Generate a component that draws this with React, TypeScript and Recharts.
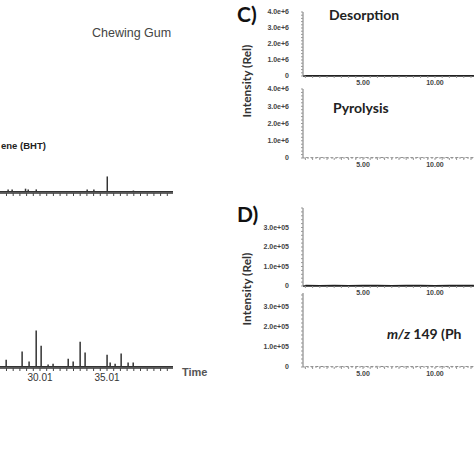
import React from "react";
import { ComposedChart, LineChart, Bar, Line, XAxis, YAxis, ReferenceLine } from "recharts";

// chewing gum chromatograms: retention time (min) and relative abundance (%)
const bhtTimes = [27.6, 27.9, 28.9, 29.1, 29.7, 33.5, 34.0, 35.0, 36.95];
const bhtHeights = [6, 6, 8, 6, 6, 6, 6, 42, 3];

const gumTimes = [27.47, 28.66, 29.18, 29.71, 30.08, 30.6, 30.97, 32.1, 32.47, 32.99, 33.36, 35.0, 35.23, 35.6, 36.05, 36.57, 36.95];
const gumHeights = [19, 42, 14, 100, 58, 6, 8, 22, 14, 69, 39, 33, 11, 8, 36, 11, 11];

const timeLabelValues = [30.01, 35.01];
const timeLabels = ["30.01", "35.01"];

// desorption / pyrolysis runs: scan time (min) and intensity
const scanTimes = [1, 2, 3, 4, 5, 6, 7, 8, 9, 10, 11, 12, 12.7];
const ticDesorption = [20000, 18000, 22000, 19000, 21000, 20000, 18000, 23000, 20000, 19000, 21000, 20000, 22000];
const ticPyrolysis = [15000, 22000, 12000, 25000, 18000, 30000, 14000, 26000, 20000, 16000, 28000, 19000, 24000];
const ion149Desorption = [2000, 1800, 2200, 1900, 2100, 2000, 1800, 2300, 2000, 1900, 2100, 2000, 2200];
const ion149Pyrolysis = [1500, 2600, 1200, 2400, 1800, 3000, 1400, 2500, 2000, 1600, 2800, 1900, 2400];

const scanLabelValues = [5, 10];
const scanLabels = ["5.00", "10.00"];
const ticLabelValues = [0, 1e6, 2e6, 3e6, 4e6];
const ticLabels = ["0", "1.0e+6", "2.0e+6", "3.0e+6", "4.0e+6"];
const ionLabelValues = [0, 1e5, 2e5, 3e5];
const ionLabels = ["0", "1.0e+05", "2.0e+05", "3.0e+05"];

// minor tick positions for the axes
const timeTicks = Array.from({ length: 25 }, (_, i) => 27.51 + i * 0.5);
const scanTicks = Array.from({ length: 24 }, (_, i) => 1 + i * 0.5);
const steps = (n: number, step: number) => Array.from({ length: n }, (_, i) => i * step);

const pickLabel = (v: number, values: number[], labels: string[]) => {
  const i = values.findIndex((x) => Math.abs(x - v) < 1e-3 * Math.max(1, Math.abs(x)));
  return i >= 0 ? labels[i] : "";
};

const tickFont = { fontSize: 7, fill: "#444", fontWeight: 700, fontFamily: "Liberation Sans" };

const Trace = ({ times, heights, top, showLabels }: { times: number[]; heights: number[]; top: number; showLabels: boolean }) => {
  const data = times.map((t, i) => ({ t, h: heights[i] }));
  return (
    <div style={{ position: "absolute", left: 0, top }}>
      <ComposedChart width={173} height={showLabels ? 58 : 46} data={data} margin={{ top: 0, right: 0, bottom: 0, left: 0 }}>
        <XAxis
          type="number"
          dataKey="t"
          domain={[27.025, 39.935]}
          allowDataOverflow
          ticks={timeTicks}
          interval={0}
          tickFormatter={(v) => (showLabels ? pickLabel(v, timeLabelValues, timeLabels) : "")}
          tickSize={3}
          tickMargin={3}
          height={showLabels ? 17 : 5}
          axisLine={{ stroke: "#333", strokeWidth: 1.3 }}
          tickLine={{ stroke: "#444" }}
          tick={{ fontSize: 10, fill: "#333", fontFamily: "Liberation Sans" }}
        />
        <YAxis hide domain={[-4, 110]} allowDataOverflow />
        <ReferenceLine y={0} stroke="#333" strokeWidth={1.3} />
        <Bar dataKey="h" fill="#333" barSize={1.5} isAnimationActive={false} />
      </ComposedChart>
    </div>
  );
};

const ScanPanel = ({
  top,
  plotHeight,
  yMax,
  yTicks,
  labelValues,
  labels,
  values,
  solid,
}: {
  top: number;
  plotHeight: number;
  yMax: number;
  yTicks: number[];
  labelValues: number[];
  labels: string[];
  values: number[];
  solid: boolean;
}) => {
  const data = scanTimes.map((t, i) => ({ t, v: values[i] }));
  return (
    <div style={{ position: "absolute", left: 263, top }}>
      <LineChart width={211} height={6 + plotHeight + 14} data={data} margin={{ top: 6, right: 0, bottom: 0, left: 0 }}>
        <XAxis
          type="number"
          dataKey="t"
          domain={[0.833, 12.71]}
          allowDataOverflow
          ticks={scanTicks}
          interval={0}
          tickFormatter={(v) => pickLabel(v, scanLabelValues, scanLabels)}
          tickSize={2}
          tickMargin={2}
          height={14}
          axisLine={{ stroke: solid ? "#222" : "#999", strokeWidth: solid ? 1.5 : 1, strokeDasharray: solid ? undefined : "2 2" }}
          tickLine={{ stroke: "#999" }}
          tick={tickFont}
        />
        <YAxis
          domain={[0, yMax]}
          allowDataOverflow
          ticks={yTicks}
          interval={0}
          tickFormatter={(v) => pickLabel(v, labelValues, labels)}
          width={40}
          tickSize={2}
          tickMargin={12}
          axisLine={{ stroke: "#777" }}
          tickLine={{ stroke: "#999" }}
          tick={tickFont}
        />
        <Line
          dataKey="v"
          stroke={solid ? "#222" : "#888"}
          strokeWidth={solid ? 1.5 : 1}
          strokeDasharray={solid ? undefined : "3 2"}
          dot={false}
          isAnimationActive={false}
        />
      </LineChart>
    </div>
  );
};

const heading = { fontFamily: "Lato", fontWeight: 700, fill: "#222" };

export default function App() {
  return (
    <div style={{ position: "fixed", left: 0, top: 0, width: 474, height: 474, overflow: "hidden", background: "#fff" }}>
      <Trace times={bhtTimes} heights={bhtHeights} top={152} showLabels={false} />
      <Trace times={gumTimes} heights={gumHeights} top={327} showLabels />

      <ScanPanel top={6} plotHeight={64} yMax={4e6} yTicks={steps(21, 2e5)} labelValues={ticLabelValues} labels={ticLabels} values={ticDesorption} solid />
      <ScanPanel top={83} plotHeight={69} yMax={4e6} yTicks={steps(21, 2e5)} labelValues={ticLabelValues} labels={ticLabels} values={ticPyrolysis} solid={false} />
      <ScanPanel top={202} plotHeight={78} yMax={4e5} yTicks={steps(21, 2e4)} labelValues={ionLabelValues} labels={ionLabels} values={ion149Desorption} solid />
      <ScanPanel top={287} plotHeight={74} yMax={3.7e5} yTicks={steps(19, 2e4)} labelValues={ionLabelValues} labels={ionLabels} values={ion149Pyrolysis} solid={false} />

      <svg width={474} height={474} style={{ position: "absolute", left: 0, top: 0, pointerEvents: "none" }}>
        <text x={92} y={37} fontSize={12.5} fontFamily="Liberation Sans" fill="#444">Chewing Gum</text>
        <text x={1} y={149} fontSize={9.5} fontWeight={700} fontFamily="Liberation Sans" fill="#222">ene (BHT)</text>
        <text x={182} y={376} fontSize={11} fontWeight={700} fontFamily="Liberation Sans" fill="#555">Time</text>

        <text x={237} y={22} fontSize={21} {...heading} fill="#111">C)</text>
        <text x={237} y={222} fontSize={21} {...heading} fill="#111">D)</text>
        <text x={329} y={20} fontSize={14} {...heading}>Desorption</text>
        <text x={333} y={113} fontSize={14} {...heading}>Pyrolysis</text>
        <text x={387} y={339} fontSize={14} {...heading}>
          <tspan fontStyle="italic">m/z</tspan>
          <tspan> 149 (Ph</tspan>
        </text>

        <text transform="translate(251 81) rotate(-90)" textAnchor="middle" fontSize={12} {...heading} fill="#333">Intensity (Rel)</text>
        <text transform="translate(251 289) rotate(-90)" textAnchor="middle" fontSize={12} {...heading} fill="#333">Intensity (Rel)</text>
      </svg>
    </div>
  );
}
